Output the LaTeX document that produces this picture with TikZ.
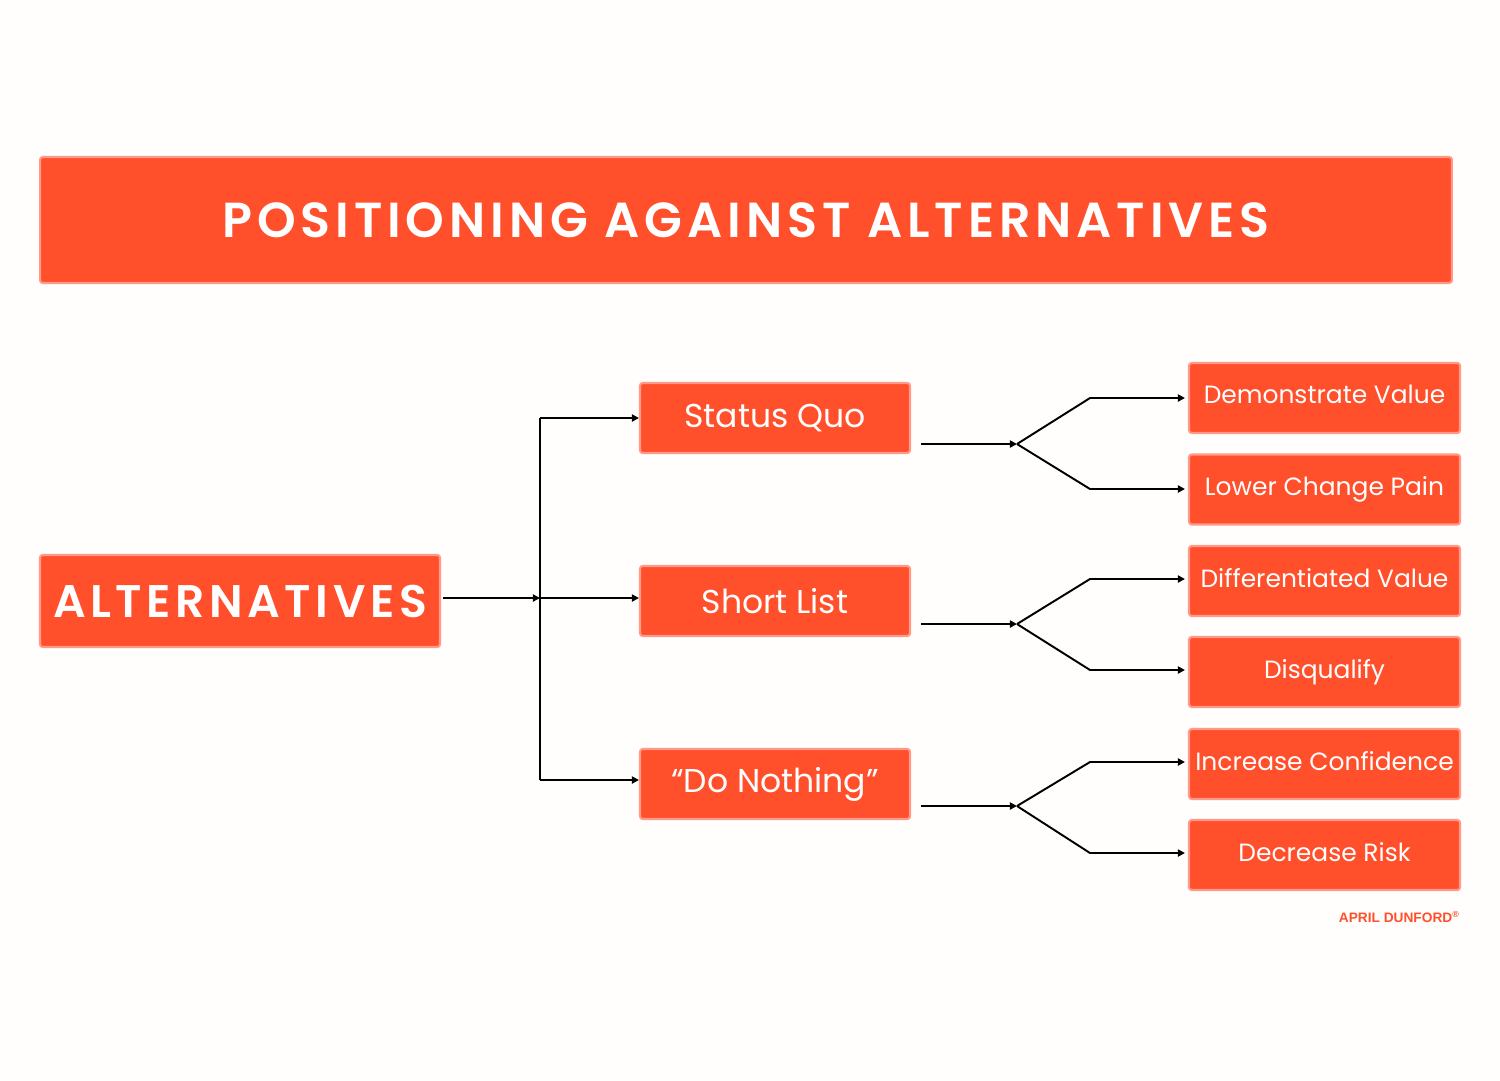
\documentclass[tikz,border=0pt]{standalone}
\usepackage{fontspec}
\setmainfont{Poppins}
\newfontfamily\spaced[LetterSpace=10]{Poppins SemiBold}
\newfontfamily\bolder{Liberation Sans Bold}
\usetikzlibrary{arrows.meta}
\definecolor{boxfill}{HTML}{FF4F2B}
\definecolor{boxedge}{HTML}{FF9A88}
\definecolor{bg}{HTML}{FFFEFC}
\begin{document}
\begin{tikzpicture}[x=0.02cm,y=-0.02cm,
  box/.style={draw=boxedge,line width=1.2pt,fill=boxfill,rounded corners=1.5pt,text=white,inner sep=0pt},
  mid/.style={box,minimum width=5.4cm,minimum height=1.4cm,font=\fontsize{18.8}{22}\selectfont},
  leaf/.style={box,minimum width=5.42cm,minimum height=1.4cm,font=\fontsize{14.2}{17}\selectfont},
  conn/.style={line width=1.1pt,-{Triangle[length=4pt,width=4pt]}},
  plain/.style={line width=1.1pt}]
\fill[bg] (0,0) rectangle (1500,1080);
\node[box,minimum width=28.24cm,minimum height=2.52cm,font=\spaced\fontsize{28}{32}\selectfont] (title) at (746,220) {POSITIONING AGAINST ALTERNATIVES};
\node[box,minimum width=8cm,minimum height=1.84cm,font=\spaced\fontsize{26}{30}\selectfont] (alt) at (240,601) {ALTERNATIVES};
\node[mid] (sq) at (775,418) {Status Quo};
\node[mid] (sl) at (775,601) {Short List};
\node[mid] (dn) at (775,784) {“Do Nothing”};
\node[leaf] (l1) at (1324.5,398) {Demonstrate Value\vphantom{gy}};
\node[leaf] (l2) at (1324.5,489.5) {Lower Change Pain};
\node[leaf] (l3) at (1324.5,581) {Differentiated Value\vphantom{gy}};
\node[leaf] (l4) at (1324.5,672) {Disqualify};
\node[leaf] (l5) at (1324.5,764) {Increase Confidence\vphantom{gy}};
\node[leaf] (l6) at (1324.5,855) {Decrease Risk\vphantom{gy}};
\node[text=boxfill,anchor=east,font=\bolder\fontsize{7.8}{9}\selectfont,inner sep=0pt] (logo) at (1460,917) {APRIL DUNFORD\textsuperscript{\tiny®}};
% trunk
\coordinate (ta) at (540,598);
\coordinate (t1) at (540,418);
\coordinate (t3) at (540,780);
\draw[conn] (alt.east |- ta) ++(2,0) -- (ta);
\draw[plain] (t1) -- (t3);
\draw[conn] (t1) -- (sq.west |- t1);
\draw[conn] (ta) -- (sl.west |- ta);
\draw[conn] (t3) -- (dn.west |- t3);
% forks
\foreach \m/\y/\a/\b/\ya/\yb in {sq/444/l1/l2/398/489, sl/624/l3/l4/579/670, dn/806/l5/l6/762/853}{
  \coordinate (f) at (1017,\y);
  \coordinate (ua) at (1090,\ya);
  \coordinate (ub) at (1090,\yb);
  \draw[conn] ([xshift=0.2cm]\m.east |- f) -- (f);
  \draw[conn] (f) -- (ua) -- ([xshift=-0.06cm]\a.west |- ua);
  \draw[conn] (f) -- (ub) -- ([xshift=-0.06cm]\b.west |- ub);
}
\end{tikzpicture}
\end{document}
